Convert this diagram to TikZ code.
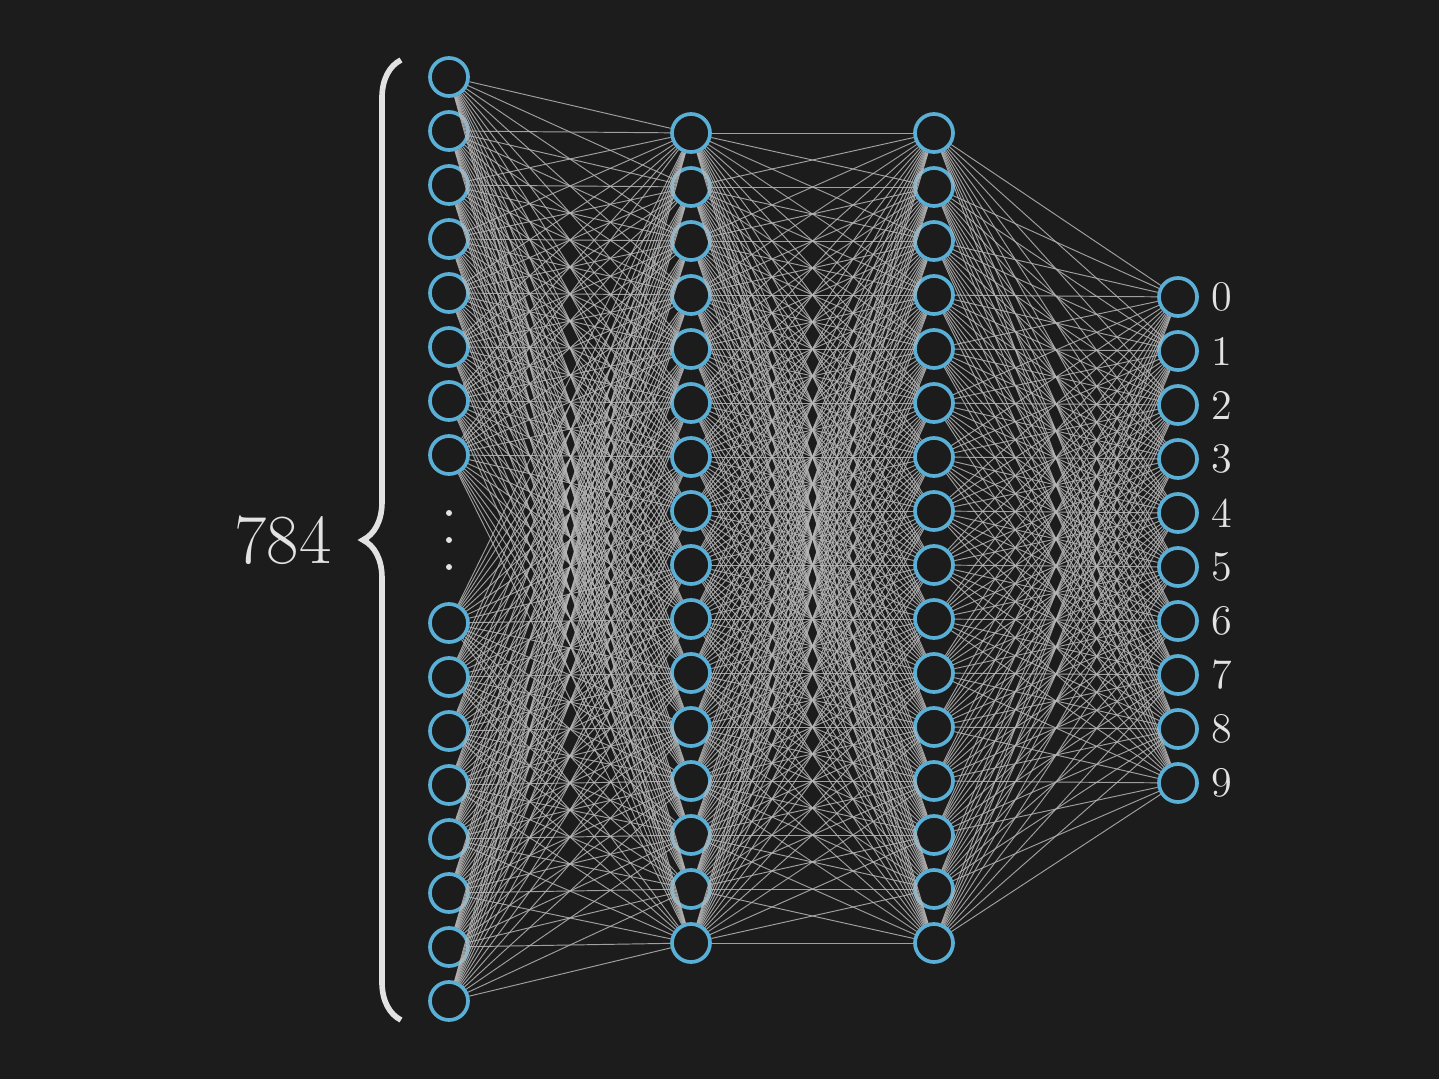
\documentclass[tikz,border=0pt]{standalone}
\usepackage{xcolor}
\usepackage{tikz}
\usetikzlibrary{decorations.pathreplacing}

\definecolor{bg}{HTML}{1C1C1C}
\definecolor{neuronblue}{HTML}{5AAFD6}
\definecolor{wiregray}{HTML}{B8B8B8}
\definecolor{ink}{HTML}{E2E2E2}

\begin{document}
\begin{tikzpicture}[x=0.01cm, y=-0.01cm,
  neuron/.style={circle, draw=neuronblue, line width=1.05pt, fill=bg, minimum size=0.38cm, inner sep=0pt},
  wire/.style={draw=wiregray, line width=0.27pt, opacity=0.85},
  digit/.style={text=ink, font=\fontsize{12}{14}\selectfont}]

% Background
\fill[bg] (0,0) rectangle (1439,1079);
\useasboundingbox (0,0) rectangle (1439,1079);

% Input layer (8 on top, 8 below the dots)
\foreach \i in {1,...,8} {
  \node (in\i) [neuron] at (449, {77+54*(\i-1)}) {};
}
\foreach \i in {9,...,16} {
  \node (in\i) [neuron] at (449, {623+54*(\i-9)}) {};
}
\foreach \y in {513,540,567} {
  \fill[ink] (449,\y) circle (3);
}

% Hidden layers
\foreach \i in {1,...,16} {
  \node (ha\i) [neuron] at (691, {133+54*(\i-1)}) {};
  \node (hb\i) [neuron] at (934, {133+54*(\i-1)}) {};
}

% Output layer
\foreach \i in {0,...,9} {
  \node (out\i) [neuron, label={[digit, label distance=0pt]right:\i}] at (1178, {297+54*\i}) {};
}

% Connections
\foreach \i in {1,...,16} {
  \foreach \j in {1,...,16} {
    \draw [wire] (in\i) -- (ha\j);
    \draw [wire] (ha\i) -- (hb\j);
  }
  \foreach \j in {0,...,9} {
    \draw [wire] (hb\i) -- (out\j);
  }
}

% Brace and count
\draw [ink, line width=1.6pt, decorate, decoration={brace, amplitude=0.38cm}] (401,1020) -- (401,60);
\node (count) [text=ink, font=\fontsize{20}{24}\selectfont] at (283,540) {784};

\end{tikzpicture}
\end{document}
